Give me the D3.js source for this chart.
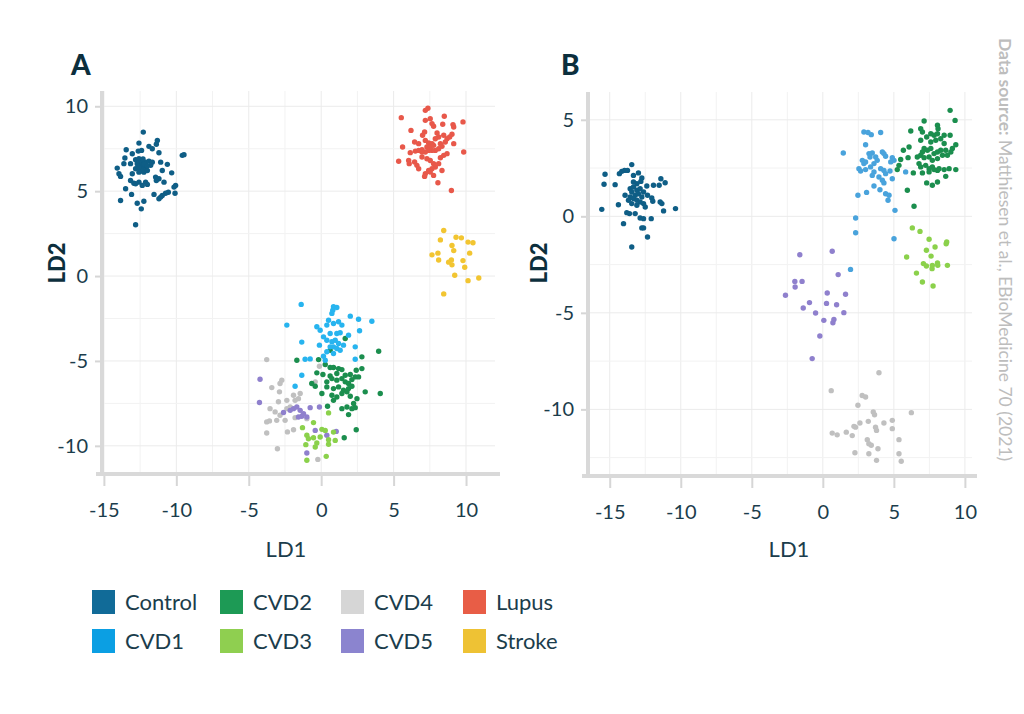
<!DOCTYPE html>
<html>
<head>
<meta charset="utf-8">
<script src="https://cdn.jsdelivr.net/npm/d3@7"></script>
<style>
  html, body { margin: 0; padding: 0; background: #fff; }
  svg { display: block; font-family: Lato, "Open Sans", sans-serif; }
</style>
</head>
<body>
<script>
// ---- data (LD1, LD2) ----
var groups = ["Control", "CVD1", "CVD2", "CVD3", "CVD4", "CVD5", "Lupus", "Stroke"];

var aControl = [[-12.28,8.48],[-11.31,7.99],[-11.38,7.76],[-12.58,7.83],[-11.89,7.64],[-11.66,7.5],[-13.46,7.44],[-13.04,7.2],[-12.63,7.36],[-12.4,7.4],[-11.2,7.26],[-9.59,7.11],[-9.47,7.15],[-13.55,6.95],[-13.16,6.62],[-13.62,6.62],[-14.08,6.36],[-13.96,6.03],[-13.85,5.87],[-12.81,6.85],[-12.58,6.91],[-12.47,6.71],[-12.7,6.62],[-12.35,6.52],[-12.12,6.42],[-12.47,6.32],[-12.81,6.32],[-12.58,6.12],[-12.24,6.12],[-12.0,6.22],[-11.89,6.77],[-11.66,6.71],[-11.77,6.52],[-12.12,6.71],[-12.3,6.26],[-12.63,6.46],[-12.2,6.6],[-12.4,6.2],[-12.0,6.5],[-12.6,6.4],[-12.3,6.9],[-11.08,6.71],[-10.62,6.58],[-10.97,6.22],[-10.32,6.08],[-11.43,5.83],[-11.2,5.73],[-11.38,5.63],[-10.85,5.53],[-13.04,6.03],[-13.16,5.63],[-12.93,5.47],[-12.58,5.53],[-12.81,5.44],[-12.12,5.53],[-12.0,5.4],[-12.35,5.34],[-10.05,5.34],[-10.16,5.24],[-10.55,4.94],[-10.74,4.88],[-10.97,4.75],[-11.2,4.55],[-11.08,4.65],[-11.54,4.81],[-10.09,4.88],[-13.5,5.14],[-13.09,4.81],[-13.85,4.45],[-12.7,4.29],[-12.24,4.41],[-12.42,3.96],[-12.81,3.02]];
var aCvd1 = [[-1.38,-1.67],[0.85,-1.81],[0.8,-2.01],[0.74,-2.2],[1.08,-1.85],[-2.37,-2.89],[2.01,-2.36],[2.58,-2.54],[3.5,-2.66],[0.51,-2.6],[0.39,-2.89],[0.85,-2.79],[1.2,-2.69],[1.43,-2.89],[-0.3,-2.99],[-0.07,-3.19],[0.62,-3.38],[1.08,-3.38],[1.31,-3.34],[1.89,-3.48],[2.65,-3.22],[0.16,-3.58],[0.39,-3.78],[0.74,-3.87],[0.97,-3.78],[1.2,-3.97],[0.85,-4.17],[1.08,-4.27],[0.62,-4.17],[1.31,-4.37],[0.39,-4.46],[0.85,-4.56],[0.16,-4.72],[0.28,-4.96],[-1.34,-3.89],[-0.12,-4.07],[2.35,-4.17],[1.54,-4.07],[-0.76,-4.88],[-1.11,-4.9],[2.35,-4.9],[-1.34,-5.84],[-1.8,-6.49]];
var aCvd2 = [[-1.68,-4.96],[-0.18,-4.92],[0.62,-4.37],[1.66,-3.68],[3.97,-4.43],[2.81,-4.76],[0.28,-5.21],[0.62,-5.39],[0.85,-5.39],[1.2,-5.45],[1.43,-5.51],[-0.3,-5.7],[0.12,-5.8],[0.62,-5.88],[1.08,-5.74],[1.66,-5.84],[2.01,-5.8],[2.35,-5.94],[2.81,-5.45],[2.42,-5.55],[0.39,-6.23],[0.74,-6.04],[1.08,-6.13],[1.43,-6.04],[1.66,-6.23],[1.89,-6.33],[2.12,-6.1],[2.58,-5.94],[-0.65,-6.33],[-0.41,-6.49],[0.39,-6.53],[0.85,-6.63],[1.2,-6.53],[1.54,-6.73],[1.89,-6.63],[2.12,-6.49],[0.05,-6.92],[0.74,-7.02],[1.08,-7.12],[1.43,-6.92],[1.78,-6.82],[2.01,-7.08],[2.47,-7.22],[3.04,-6.82],[4.08,-6.92],[0.85,-7.32],[0.44,-7.67],[1.43,-7.81],[1.78,-7.71],[2.12,-7.81],[2.35,-7.75],[2.24,-7.51],[1.89,-8.16],[2.42,-9.05],[1.59,-9.52]];
var aCvd3 = [[0.51,-8.06],[-0.53,-8.63],[-1.29,-8.93],[0.05,-9.03],[0.28,-9.09],[0.85,-9.19],[-0.99,-9.38],[-0.88,-9.58],[-0.53,-9.52],[-0.07,-9.48],[0.51,-9.64],[0.97,-9.68],[-1.06,-9.93],[-0.41,-10.07],[-0.3,-9.83],[0.51,-9.91],[-0.99,-10.85],[0.35,-10.62]];
var aCvd4 = [[-3.76,-4.92],[-0.12,-5.31],[-0.41,-6.23],[-2.72,-6.13],[-2.84,-6.33],[-3.41,-6.57],[-2.88,-6.82],[-2.37,-7.32],[-1.8,-7.32],[-1.91,-7.02],[-1.45,-6.92],[-1.57,-7.22],[-2.95,-7.4],[-3.53,-7.81],[-3.18,-8.0],[-2.84,-8.2],[-2.49,-8.5],[-3.07,-8.5],[-3.76,-8.59],[-3.57,-8.53],[-1.8,-8.34],[-0.99,-8.4],[-3.76,-9.24],[-2.33,-9.18],[-1.91,-9.05],[-3.02,-10.17],[-0.23,-10.8],[-2.14,-7.71],[-2.37,-7.81]];
var aCvd5 = [[-4.22,-6.08],[-4.26,-7.45],[-2.6,-8.04],[-1.91,-7.81],[-1.68,-7.71],[-1.45,-7.91],[-1.22,-8.1],[-1.34,-8.26],[-1.57,-8.3],[-0.99,-8.3],[-0.76,-7.75],[-0.12,-7.71],[-0.41,-9.09],[0.39,-9.38],[1.04,-9.15],[-0.99,-10.42],[-2.14,-7.91]];
var aLupus = [[7.19,9.76],[7.37,9.88],[5.53,9.33],[8.5,9.41],[7.19,9.17],[7.53,9.27],[7.65,8.98],[7.76,8.82],[8.39,8.94],[9.1,8.92],[9.15,8.78],[9.79,9.08],[6.2,8.58],[7.14,8.49],[7.0,8.29],[8.0,8.43],[8.11,8.19],[7.88,8.09],[8.46,8.29],[8.69,8.09],[8.57,7.9],[9.03,8.35],[8.87,8.19],[6.45,7.9],[6.73,7.8],[7.19,7.99],[7.42,7.84],[7.65,7.8],[7.3,7.6],[7.53,7.6],[7.76,7.7],[8.23,7.8],[8.34,7.64],[8.11,7.5],[7.88,7.4],[7.65,7.4],[7.42,7.4],[7.19,7.31],[6.96,7.31],[9.15,7.8],[5.62,7.6],[6.15,7.27],[6.5,7.36],[6.73,7.4],[6.96,7.44],[8.69,7.21],[8.46,7.11],[9.84,7.31],[5.35,6.76],[6.04,6.81],[6.08,6.62],[6.45,6.72],[6.61,6.52],[6.73,6.32],[6.96,7.01],[7.3,6.91],[7.53,6.81],[7.76,6.62],[7.88,6.42],[7.65,6.32],[7.42,6.22],[8.23,6.97],[8.11,6.62],[7.19,6.03],[7.14,5.87],[7.53,6.13],[8.34,6.22],[7.76,5.93],[8.06,5.5],[8.99,5.04]];
var aStroke = [[8.46,2.68],[8.23,2.13],[9.31,2.29],[9.68,2.25],[9.03,1.8],[9.15,1.5],[10.14,2.0],[10.48,1.96],[7.65,1.25],[8.06,1.35],[8.11,0.95],[8.8,0.82],[8.99,0.95],[9.03,0.66],[9.79,0.91],[10.25,1.35],[9.91,0.52],[9.22,0.05],[10.14,-0.27],[10.88,-0.11],[8.46,-1.05]];

var bControl = [[-13.45,2.68],[-15.33,2.18],[-15.4,1.66],[-14.32,2.21],[-14.15,2.33],[-13.96,2.38],[-13.75,2.38],[-12.98,2.25],[-13.33,2.12],[-12.74,1.99],[-12.81,1.81],[-14.62,1.64],[-13.33,1.78],[-13.09,1.69],[-12.39,1.57],[-11.92,1.61],[-11.52,1.61],[-11.4,1.95],[-11.1,1.74],[-13.56,1.43],[-13.33,1.52],[-13.09,1.35],[-12.86,1.43],[-12.62,1.26],[-13.45,1.26],[-13.21,1.09],[-12.98,1.17],[-12.74,1.0],[-13.56,1.0],[-13.33,0.92],[-13.09,0.83],[-12.86,0.74],[-12.62,0.66],[-13.68,0.83],[-13.09,0.57],[-13.45,0.66],[-13.92,1.09],[-12.34,1.09],[-12.04,0.95],[-11.97,0.78],[-11.45,0.74],[-11.33,0.66],[-14.39,0.6],[-15.56,0.36],[-12.5,0.48],[-11.21,0.28],[-10.37,0.4],[-13.8,0.19],[-13.61,0.14],[-13.21,0.14],[-12.86,-0.09],[-12.62,-0.12],[-12.08,-0.12],[-14.03,-0.38],[-12.74,-0.6],[-12.62,-0.6],[-12.34,-1.07],[-13.45,-1.59]];
var bCvd1 = [[1.44,3.28],[2.89,4.37],[3.18,4.34],[3.41,4.23],[4.07,4.34],[3.01,3.71],[3.25,3.25],[3.48,3.28],[3.32,3.07],[2.78,2.9],[2.89,2.73],[3.01,2.82],[3.72,3.07],[3.83,2.9],[3.6,2.73],[4.19,3.33],[4.3,3.25],[4.42,3.11],[4.89,3.04],[5.01,2.9],[4.78,2.82],[2.54,2.47],[2.66,2.35],[3.01,2.42],[3.36,2.56],[3.6,2.3],[3.48,2.12],[4.07,2.47],[4.3,2.38],[4.42,2.21],[3.95,2.04],[4.19,1.87],[4.3,1.73],[4.73,2.35],[4.89,1.95],[3.6,1.57],[4.02,1.38],[3.08,1.24],[2.47,1.09],[4.42,1.17],[4.66,1.09],[4.59,0.83],[5.08,0.31],[5.83,2.3],[2.31,-0.09],[2.31,-0.85],[5.01,-1.16],[1.95,-2.75]];
var bCvd2 = [[7.6,4.28],[7.83,4.2],[8.07,4.28],[8.54,4.2],[8.96,4.2],[7.31,4.11],[6.89,3.94],[7.6,3.85],[7.95,3.94],[8.3,4.02],[8.54,3.77],[9.36,3.71],[9.12,3.51],[7.13,3.51],[7.01,3.33],[7.36,3.42],[7.6,3.51],[7.83,3.25],[8.07,3.33],[8.3,3.42],[8.65,3.42],[9.01,3.33],[5.67,3.42],[6.07,3.59],[6.65,3.07],[6.89,3.16],[7.13,3.04],[7.48,3.07],[7.71,2.9],[8.07,2.99],[8.42,3.16],[8.77,3.16],[5.48,2.94],[6.0,3.04],[5.24,2.42],[5.36,2.64],[6.77,2.73],[6.89,2.56],[7.24,2.64],[7.48,2.47],[7.71,2.56],[8.07,2.38],[8.54,2.42],[8.89,2.47],[9.36,2.42],[7.01,2.25],[7.48,2.3],[7.83,2.42],[8.18,2.47],[6.37,2.25],[8.65,2.07],[7.31,1.73],[7.71,1.61],[8.07,1.78],[5.95,1.35],[6.42,0.52],[8.96,5.49],[9.31,4.97],[7.13,4.94],[6.19,4.42],[6.89,4.54],[7.01,4.37],[8.07,4.72],[8.11,4.54]];
var bCvd3 = [[6.3,-0.6],[6.84,-0.78],[7.48,-1.19],[8.72,-1.33],[8.68,-1.42],[7.9,-1.59],[7.29,-1.76],[7.62,-2.06],[5.9,-2.11],[7.08,-2.45],[7.29,-2.57],[7.71,-2.54],[7.69,-2.71],[8.07,-2.42],[8.09,-2.54],[8.77,-2.54],[6.59,-2.94],[7.01,-3.4],[7.76,-3.61]];
var bCvd4 = [[3.95,-8.1],[0.59,-9.03],[2.77,-9.28],[3.01,-9.36],[2.47,-9.79],[6.23,-10.17],[3.55,-10.14],[3.64,-10.28],[4.89,-10.57],[3.2,-10.62],[4.3,-10.71],[2.61,-10.71],[2.3,-10.92],[2.19,-10.88],[3.71,-10.92],[3.78,-11.09],[4.89,-11.0],[0.66,-11.23],[1.01,-11.32],[1.65,-11.18],[2.07,-11.36],[3.13,-11.57],[3.24,-11.78],[3.41,-11.86],[5.36,-11.57],[3.88,-12.04],[2.26,-12.25],[3.24,-12.3],[5.36,-12.3],[3.78,-12.64],[5.52,-12.69]];
var bCvd5 = [[-1.62,-1.99],[0.66,-1.81],[1.08,-3.02],[-1.97,-3.37],[-1.46,-3.37],[-1.95,-3.66],[-2.63,-4.09],[0.31,-3.97],[1.6,-4.04],[-0.94,-4.47],[0.26,-4.51],[0.97,-4.58],[-1.38,-4.75],[-0.51,-5.01],[1.48,-4.99],[0.07,-5.39],[0.78,-5.34],[0.71,-5.51],[-0.21,-6.2],[-0.75,-7.37]];

var xTicks = [-15, -10, -5, 0, 5, 10];
var yTicksA = [-10, -5, 0, 5, 10];
var yTicksB = [-10, -5, 0, 5];

// ---- colours ----
var keyColour = {Control: "#116b98", CVD1: "#0b9fe3", CVD2: "#1d9a55", CVD3: "#8fcf50",
  CVD4: "#d6d6d6", CVD5: "#8b84cf", Lupus: "#e85d46", Stroke: "#eec234"};
var dotColour = {Control: "#0f5e86", CVD1: "#27b4ef", CVD2: "#1b8e4e", CVD3: "#8bd14b",
  CVD4: "#c0c0c0", CVD5: "#8f80cd", Lupus: "#e8584a", Stroke: "#f2c531"};
var textColour = "#1b3d4c";

var W = 1024, H = 714;
var svg = d3.select("body").append("svg").attr("width", W).attr("height", H);

var panels = [
  {label: "A", labelX: 71, ldX: 57, ld1X: 286, left: 101, right: 495, top: 91, bottom: 473,
   xDom: [-15.2, 12.0], yDom: [-11.6, 10.9], yTicks: yTicksA,
   series: [["Control", aControl], ["Lupus", aLupus], ["Stroke", aStroke], ["CVD4", aCvd4],
            ["CVD2", aCvd2], ["CVD1", aCvd1], ["CVD5", aCvd5], ["CVD3", aCvd3]]},
  {label: "B", labelX: 561, ldX: 539, ld1X: 789, left: 587, right: 972, top: 92, bottom: 475,
   xDom: [-16.6, 10.5], yDom: [-13.4, 6.44], yTicks: yTicksB, cvd1: "#49a3dc",
   series: [["Control", bControl], ["CVD4", bCvd4], ["CVD5", bCvd5], ["CVD3", bCvd3],
            ["CVD1", bCvd1], ["CVD2", bCvd2]]}
];

panels.forEach(function(p) {
  var x = d3.scaleLinear().domain(p.xDom).range([p.left, p.right]);
  var y = d3.scaleLinear().domain(p.yDom).range([p.bottom, p.top]);
  var g = svg.append("g");

  // grid, every 2.5 units
  var gx = d3.range(Math.ceil(p.xDom[0] / 2.5) * 2.5, p.xDom[1], 2.5);
  var gy = d3.range(Math.ceil(p.yDom[0] / 2.5) * 2.5, p.yDom[1], 2.5);
  g.selectAll(".gx").data(gx).enter().append("line")
    .attr("x1", d => x(d)).attr("x2", d => x(d))
    .attr("y1", p.top).attr("y2", p.bottom)
    .attr("stroke", d => d % 5 === 0 ? "#ebebeb" : "#f2f2f2").attr("stroke-width", 1);
  g.selectAll(".gy").data(gy).enter().append("line")
    .attr("y1", d => y(d)).attr("y2", d => y(d))
    .attr("x1", p.left).attr("x2", p.right)
    .attr("stroke", d => d % 5 === 0 ? "#ebebeb" : "#f2f2f2").attr("stroke-width", 1);

  // axes (ticks + labels), domain path replaced by thick lines
  var xa = g.append("g").attr("transform", "translate(0," + (p.bottom + 1) + ")")
    .call(d3.axisBottom(x).tickValues(xTicks).tickSize(12).tickPadding(17));
  var ya = g.append("g").attr("transform", "translate(" + (p.left + 1) + ",0)")
    .call(d3.axisLeft(y).tickValues(p.yTicks).tickSize(7).tickPadding(7));
  [xa, ya].forEach(function(a) {
    a.select(".domain").remove();
    a.selectAll(".tick line").attr("stroke", "#d6d6d6").attr("stroke-width", 2);
    a.selectAll(".tick text").attr("fill", textColour).attr("font-size", 20)
      .attr("font-family", "Lato, sans-serif").text(d => String(d).replace("\u2212", "-"));
  });

  g.append("line").attr("x1", p.left + 1).attr("x2", p.left + 1)
    .attr("y1", p.top).attr("y2", p.bottom + 3)
    .attr("stroke", "#d9d9d9").attr("stroke-width", 4);
  g.append("line").attr("x1", p.left - 5).attr("x2", p.right + 5)
    .attr("y1", p.bottom + 1).attr("y2", p.bottom + 1)
    .attr("stroke", "#d9d9d9").attr("stroke-width", 4);

  // points
  p.series.forEach(function(s) {
    var col = (s[0] === "CVD1" && p.cvd1) ? p.cvd1 : dotColour[s[0]];
    g.append("g").selectAll("circle").data(s[1]).enter().append("circle")
      .attr("cx", d => x(d[0])).attr("cy", d => y(d[1])).attr("r", 2.7)
      .attr("fill", col);
  });

  // labels
  g.append("text").attr("x", p.labelX).attr("y", 75).text(p.label)
    .attr("font-size", 28).attr("font-weight", 900).attr("fill", "#0c2f3d");
  g.append("text").attr("transform", "translate(" + (p.ldX + 8) + ",263) rotate(-90)")
    .attr("text-anchor", "middle").text("LD2")
    .attr("font-size", 22).attr("font-weight", 900).attr("fill", "#0c2f3d");
  g.append("text").attr("x", p.ld1X).attr("y", 557).attr("text-anchor", "middle")
    .text("LD1").attr("font-size", 22).attr("fill", textColour);
});

// legend: two rows, four columns
var legCols = [92, 220, 341, 463];
var legRows = [590, 629];
var leg = svg.append("g");
groups.forEach(function(name, i) {
  var lx = legCols[Math.floor(i / 2)];
  var ly = legRows[i % 2];
  leg.append("rect").attr("x", lx).attr("y", ly).attr("width", 23).attr("height", 24)
    .attr("fill", keyColour[name]);
  leg.append("text").attr("x", lx + 33).attr("y", ly + 12).attr("dy", "0.36em")
    .text(name).attr("font-size", 22).attr("fill", textColour);
});

// data source, rotated
var src = svg.append("text").attr("transform", "translate(999,38) rotate(90)")
  .attr("font-size", 17.5).attr("fill", "#bdbdbd");
src.append("tspan").attr("font-weight", 700).text("Data source:");
src.append("tspan").text(" Matthiesen et al., EBioMedicine 70 (2021)");
</script>
</body>
</html>
